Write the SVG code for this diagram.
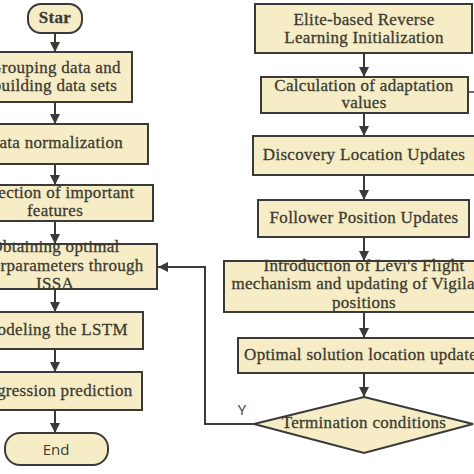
<svg xmlns="http://www.w3.org/2000/svg" width="474" height="474" viewBox="0 0 474 474">
<defs>
<style>
.n{fill:#f6edc7;stroke:#3a3a38;stroke-width:2}
.t{font-family:"Liberation Serif","Times New Roman",serif;font-size:17px;letter-spacing:0.3px;fill:#3d3b30;stroke:#3d3b30;stroke-width:0.3;text-anchor:middle}
.s{font-family:"Open Sans","Liberation Sans",sans-serif;font-size:15px;fill:#3d3b30;text-anchor:middle}
.c{fill:none;stroke:#3a3a38;stroke-width:2}
</style>
<marker id="ah" viewBox="0 0 10 10" refX="10" refY="5" markerWidth="5" markerHeight="5" orient="auto" markerUnits="strokeWidth">
<path d="M0,0 L10,5 L0,10 z" fill="#3a3a38"/>
</marker>
</defs>
<rect width="474" height="474" fill="#ffffff"/>
<g id="connectors">
<line class="c" x1="55" y1="33" x2="55" y2="52" marker-end="url(#ah)"/>
<line class="c" x1="55" y1="102" x2="55" y2="124" marker-end="url(#ah)"/>
<line class="c" x1="55" y1="164" x2="55" y2="185" marker-end="url(#ah)"/>
<line class="c" x1="55" y1="221" x2="55" y2="244" marker-end="url(#ah)"/>
<line class="c" x1="55" y1="289" x2="55" y2="312" marker-end="url(#ah)"/>
<line class="c" x1="55" y1="349" x2="55" y2="372" marker-end="url(#ah)"/>
<line class="c" x1="55" y1="410" x2="55" y2="433" marker-end="url(#ah)"/>
<line class="c" x1="364" y1="53" x2="364" y2="77" marker-end="url(#ah)"/>
<line class="c" x1="364" y1="113" x2="364" y2="136" marker-end="url(#ah)"/>
<line class="c" x1="364" y1="175" x2="364" y2="200" marker-end="url(#ah)"/>
<line class="c" x1="364" y1="237" x2="364" y2="261" marker-end="url(#ah)"/>
<line class="c" x1="364" y1="312" x2="364" y2="338" marker-end="url(#ah)"/>
<line class="c" x1="364" y1="373" x2="364" y2="397" marker-end="url(#ah)"/>
<polyline class="c" points="254,424 205,424 205,267 158,267" marker-end="url(#ah)"/>
<line x1="469" y1="92" x2="474" y2="92" stroke="#3a3a38" stroke-width="1.5"/>
</g>
<g id="star">
<rect class="n" x="28" y="4" width="54" height="29" rx="13"/>
<text class="t" x="55" y="23" font-weight="bold">Star</text>
</g>
<g id="grouping">
<rect class="n" x="-22" y="52" width="154" height="50"/>
<text class="t" x="55" y="73">Grouping data and</text>
<text class="t" x="55" y="91">building data sets</text>
</g>
<g id="normalization">
<rect class="n" x="-38" y="124" width="186" height="40"/>
<text class="t" x="55" y="148">Data normalization</text>
</g>
<g id="selection">
<rect class="n" x="-43" y="185" width="196" height="36"/>
<text class="t" x="55" y="198">Selection of important</text>
<text class="t" x="55" y="216">features</text>
</g>
<g id="hyper">
<rect class="n" x="-47" y="244" width="204" height="45"/>
<text class="t" x="55" y="252">Obtaining optimal</text>
<text class="t" x="55" y="271">hyperparameters through</text>
<text class="t" x="55" y="289">ISSA</text>
</g>
<g id="lstm">
<rect class="n" x="-33" y="312" width="176" height="37"/>
<text class="t" x="55" y="335">Modeling the LSTM</text>
</g>
<g id="regression">
<rect class="n" x="-32" y="372" width="174" height="38"/>
<text class="t" x="55" y="396">Regression prediction</text>
</g>
<g id="end">
<rect class="n" x="5" y="433" width="103" height="32" rx="15"/>
<text class="s" x="56" y="455">End</text>
</g>
<g id="elite">
<rect class="n" x="255" y="4" width="217" height="49"/>
<text class="t" x="364" y="25">Elite-based Reverse</text>
<text class="t" x="364" y="43">Learning Initialization</text>
</g>
<g id="adaptation">
<rect class="n" x="261" y="77" width="207" height="36"/>
<text class="t" x="364" y="91">Calculation of adaptation</text>
<text class="t" x="364" y="108">values</text>
</g>
<g id="discovery">
<rect class="n" x="253" y="136" width="224" height="39"/>
<text class="t" x="364" y="160">Discovery Location Updates</text>
</g>
<g id="follower">
<rect class="n" x="258" y="200" width="211" height="37"/>
<text class="t" x="364" y="223">Follower Position Updates</text>
</g>
<g id="levy">
<rect class="n" x="224" y="261" width="260" height="51"/>
<text class="t" x="364" y="271">Introduction of Levi's Flight</text>
<text class="t" x="364" y="289">mechanism and updating of Vigilante</text>
<text class="t" x="364" y="308">positions</text>
</g>
<g id="optimal">
<rect class="n" x="238" y="338" width="250" height="35"/>
<text class="t" x="364" y="360">Optimal solution location updates</text>
</g>
<g id="termination">
<polygon class="n" points="364,397 473,424 364,453 254,424"/>
<text class="t" x="364" y="428">Termination conditions</text>
</g>
<text class="s" x="242" y="415" font-size="13">Y</text>
</svg>
